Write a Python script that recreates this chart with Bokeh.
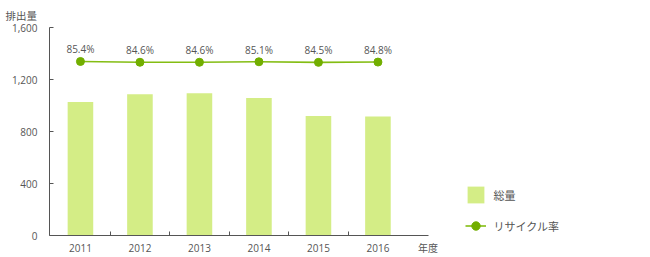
from bokeh.plotting import figure
from bokeh.models import (Range1d, FixedTicker, NumeralTickFormatter, Legend, LegendItem,
                          ColumnDataSource)
from bokeh.core.properties import value
from bokeh.embed import file_html
from bokeh.resources import INLINE

years = ["2011", "2012", "2013", "2014", "2015", "2016"]
total = [1026, 1087, 1095, 1057, 920, 915]
rate = [85.4, 84.6, 84.6, 85.1, 84.5, 84.8]
rate_labels = [f"{r:.1f}%" for r in rate]
y_ticks = [0, 400, 800, 1200, 1600]
x_unit_label = "年度"
y_unit_label = "排出量"

FONT = "Open Sans, Noto Sans CJK JP"
JP = "Noto Sans CJK JP"
TXT = "#555555"
AXIS = "#555555"
BAR = "#d4ed86"
LINE = "#84bd13"
DOT = "#72ae00"

xs = list(range(len(years)))
unit_pos = len(years) - 1 + 0.84
src = ColumnDataSource(dict(x=xs, total=total, rate=rate, lab=rate_labels))

# frame spans 49..640 px; one category = 59.5 px
x_end = -0.52 + (640 - 49) / 59.5
p = figure(width=650, height=257, x_range=Range1d(-0.52, x_end), y_range=Range1d(0, 1600),
           output_backend="svg", toolbar_location=None,
           min_border_left=49, min_border_right=10, min_border_top=26, min_border_bottom=21)
p.extra_y_ranges = {"rate": Range1d(-90.3, 119.7)}

p.xgrid.visible = False
p.ygrid.visible = False
p.outline_line_color = None
p.background_fill_color = "white"
p.border_fill_color = "white"

p.title.text = y_unit_label
p.title.align = "left"
p.title.offset = -44
p.title.standoff = 10
p.title.text_font = JP
p.title.text_font_size = "10.5px"
p.title.text_font_style = "normal"
p.title.text_color = TXT

bars = p.vbar(x="x", top="total", width=0.43, source=src, fill_color=BAR, line_color=None)
ln = p.line(x="x", y="rate", source=src, y_range_name="rate", line_color=LINE, line_width=1.6)
dots = p.scatter(x="x", y="rate", source=src, y_range_name="rate", size=8,
                 fill_color=DOT, line_color=DOT)
p.text(x="x", y="rate", text="lab", source=src, y_range_name="rate",
       text_align="center", text_baseline="bottom", y_offset=-5,
       text_font=value(FONT), text_font_size="10px", text_color=TXT)

# x axis
xa = p.xaxis[0]
xa.bounds = (-0.52, unit_pos + 0.005)
xa.ticker = FixedTicker(ticks=xs + [unit_pos], minor_ticks=[i + 0.5 for i in xs[:-1]])
overrides = {i: y for i, y in zip(xs, years)}
overrides[unit_pos] = x_unit_label
xa.major_label_overrides = overrides
xa.major_tick_in = 0
xa.major_tick_out = 0
xa.minor_tick_in = 4
xa.minor_tick_out = 0
xa.minor_tick_line_color = AXIS
xa.axis_line_color = AXIS
xa.major_label_standoff = 5
xa.major_label_text_font = FONT
xa.major_label_text_font_size = "10px"
xa.major_label_text_color = TXT

# y axis
ya = p.yaxis[0]
ya.ticker = FixedTicker(ticks=y_ticks)
ya.formatter = NumeralTickFormatter(format="0,0")
ya.major_tick_in = 4
ya.major_tick_out = 0
ya.minor_tick_line_color = None
ya.major_tick_line_color = AXIS
ya.axis_line_color = AXIS
ya.major_label_standoff = 12
ya.major_label_text_font = FONT
ya.major_label_text_font_size = "10px"
ya.major_label_text_color = TXT

legend = Legend(items=[LegendItem(label="総量", renderers=[bars]),
                       LegendItem(label="リサイクル率", renderers=[ln, dots])],
                location=(415.5, -1), orientation="vertical",
                glyph_width=21, glyph_height=21, spacing=10, padding=0, margin=0,
                label_standoff=8, border_line_color=None, background_fill_alpha=0,
                label_text_font=JP, label_text_font_size="11px", label_text_color=TXT)
p.add_layout(legend, "center")

open("out.html", "w").write(file_html(p, INLINE))
